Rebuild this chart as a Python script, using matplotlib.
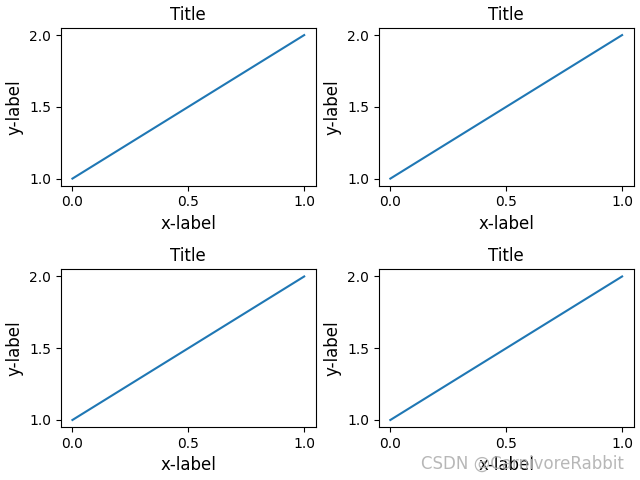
import matplotlib
matplotlib.use("Agg")
import matplotlib.pyplot as plt

x_values = [0, 1]
y_values = [1, 2]


def example_plot(ax, fontsize=12):
    ax.plot(x_values, y_values)
    ax.locator_params(nbins=3)
    ax.set_xlabel('x-label', fontsize=fontsize)
    ax.set_ylabel('y-label', fontsize=fontsize)
    ax.set_title('Title', fontsize=fontsize)


fig, axs = plt.subplots(nrows=2, ncols=2, figsize=(6.4, 4.8), dpi=100)
for ax in axs.flat:
    example_plot(ax)
plt.tight_layout(pad=0.4, w_pad=0.5, h_pad=1.0)
fig.text(0.975, 0.015, 'CSDN @CarnivoreRabbit', ha='right', va='bottom',
         fontsize=12, color='#b0b0b0', alpha=0.9)
plt.savefig('out.png')
